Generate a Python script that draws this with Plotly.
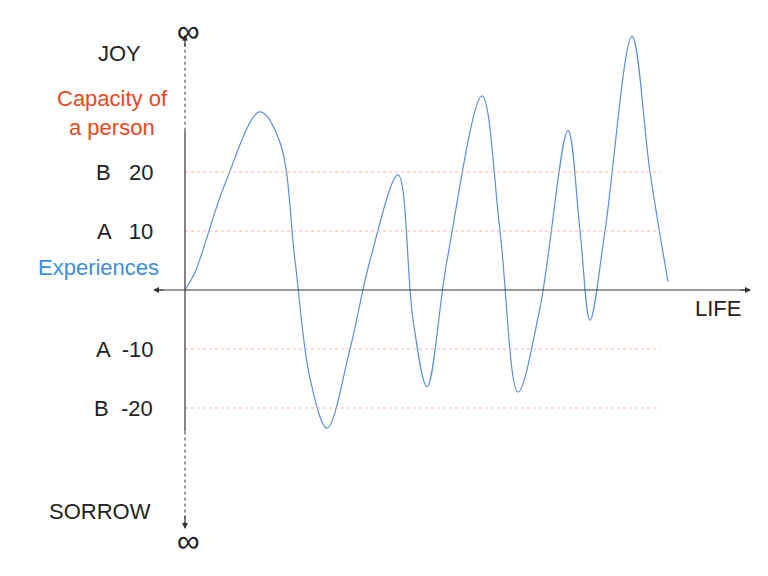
import plotly.graph_objects as go

# experience curve, x = steps along life, y = joy/sorrow level
life_x = [0, 10, 40, 75, 95, 110, 125, 142, 165, 185, 213, 228, 242, 262, 297, 315, 333, 355, 383, 395, 405, 420, 447, 465, 483]
joy_y = [0, 3, 18, 30.2, 25, 5, -15, -23.4, -10, 5, 19.5, -5, -16.4, 5, 32.9, 10, -17.3, -3, 27, 10, -5.1, 10, 43, 20, 1.4]

grid_levels = [20, 10, -10, -20]
grid_labels = ["B   20", "A   10", "A  -10", "B  -20"]

font = "Liberation Sans, Arial, sans-serif"
fig = go.Figure()
fig.add_trace(go.Scatter(x=life_x, y=joy_y, mode="lines", line=dict(color="#5b8fd6", width=1.2, shape="spline", smoothing=1.0), hoverinfo="skip"))

shapes = []
for lv in grid_levels:
    shapes.append(dict(type="line", x0=0, x1=475, y0=lv, y1=lv, line=dict(color="#f3b8a8", width=1, dash="dot")))
shapes.append(dict(type="line", x0=-30, x1=565, y0=0, y1=0, line=dict(color="#333", width=1.2)))
shapes.append(dict(type="line", x0=0, x1=0, y0=-24, y1=27, line=dict(color="#333", width=1.2)))
shapes.append(dict(type="line", x0=0, x1=0, y0=27, y1=43, line=dict(color="#333", width=1, dash="dot")))
shapes.append(dict(type="line", x0=0, x1=0, y0=-24, y1=-40, line=dict(color="#333", width=1, dash="dot")))

ann = []
def arrow(x, y, ax, ay):
    ann.append(dict(x=x, y=y, ax=ax, ay=ay, xref="x", yref="y", axref="x", ayref="y", text="", showarrow=True, arrowhead=2, arrowsize=1, arrowwidth=1.2, arrowcolor="#333"))
arrow(-32, 0, -20, 0)
arrow(566, 0, 554, 0)
arrow(0, 43.3, 0, 41)
arrow(0, -40.5, 0, -38)

def label(x, y, text, color="#222", size=22, xanchor="right"):
    ann.append(dict(x=x, y=y, xref="x", yref="y", text=text, showarrow=False, xanchor=xanchor, font=dict(family=font, size=size, color=color)))

label(3, 43.9, "∞", size=32, xanchor="center")
label(3, -42.5, "∞", size=32, xanchor="center")
label(-42, 40.1, "JOY")
label(-73, 32.5, "Capacity of", color="#e8491d", xanchor="center")
label(-73, 27.5, "a person", color="#e8491d", xanchor="center")
for lv, t in zip(grid_levels, grid_labels):
    label(-30, lv, t, xanchor="right")
label(-87, 3.8, "Experiences", color="#3c8fdd", xanchor="center")
label(-85, -37.5, "SORROW", xanchor="center")
label(533, -3.2, "LIFE", xanchor="center")

fig.update_layout(
    width=768, height=576, margin=dict(l=0, r=0, t=0, b=0),
    plot_bgcolor="white", paper_bgcolor="white", showlegend=False,
    xaxis=dict(range=[-177, 591], visible=False),
    yaxis=dict(range=[-49.83, 47.8], visible=False),
    shapes=shapes, annotations=ann,
)
fig.write_html("out.html")
